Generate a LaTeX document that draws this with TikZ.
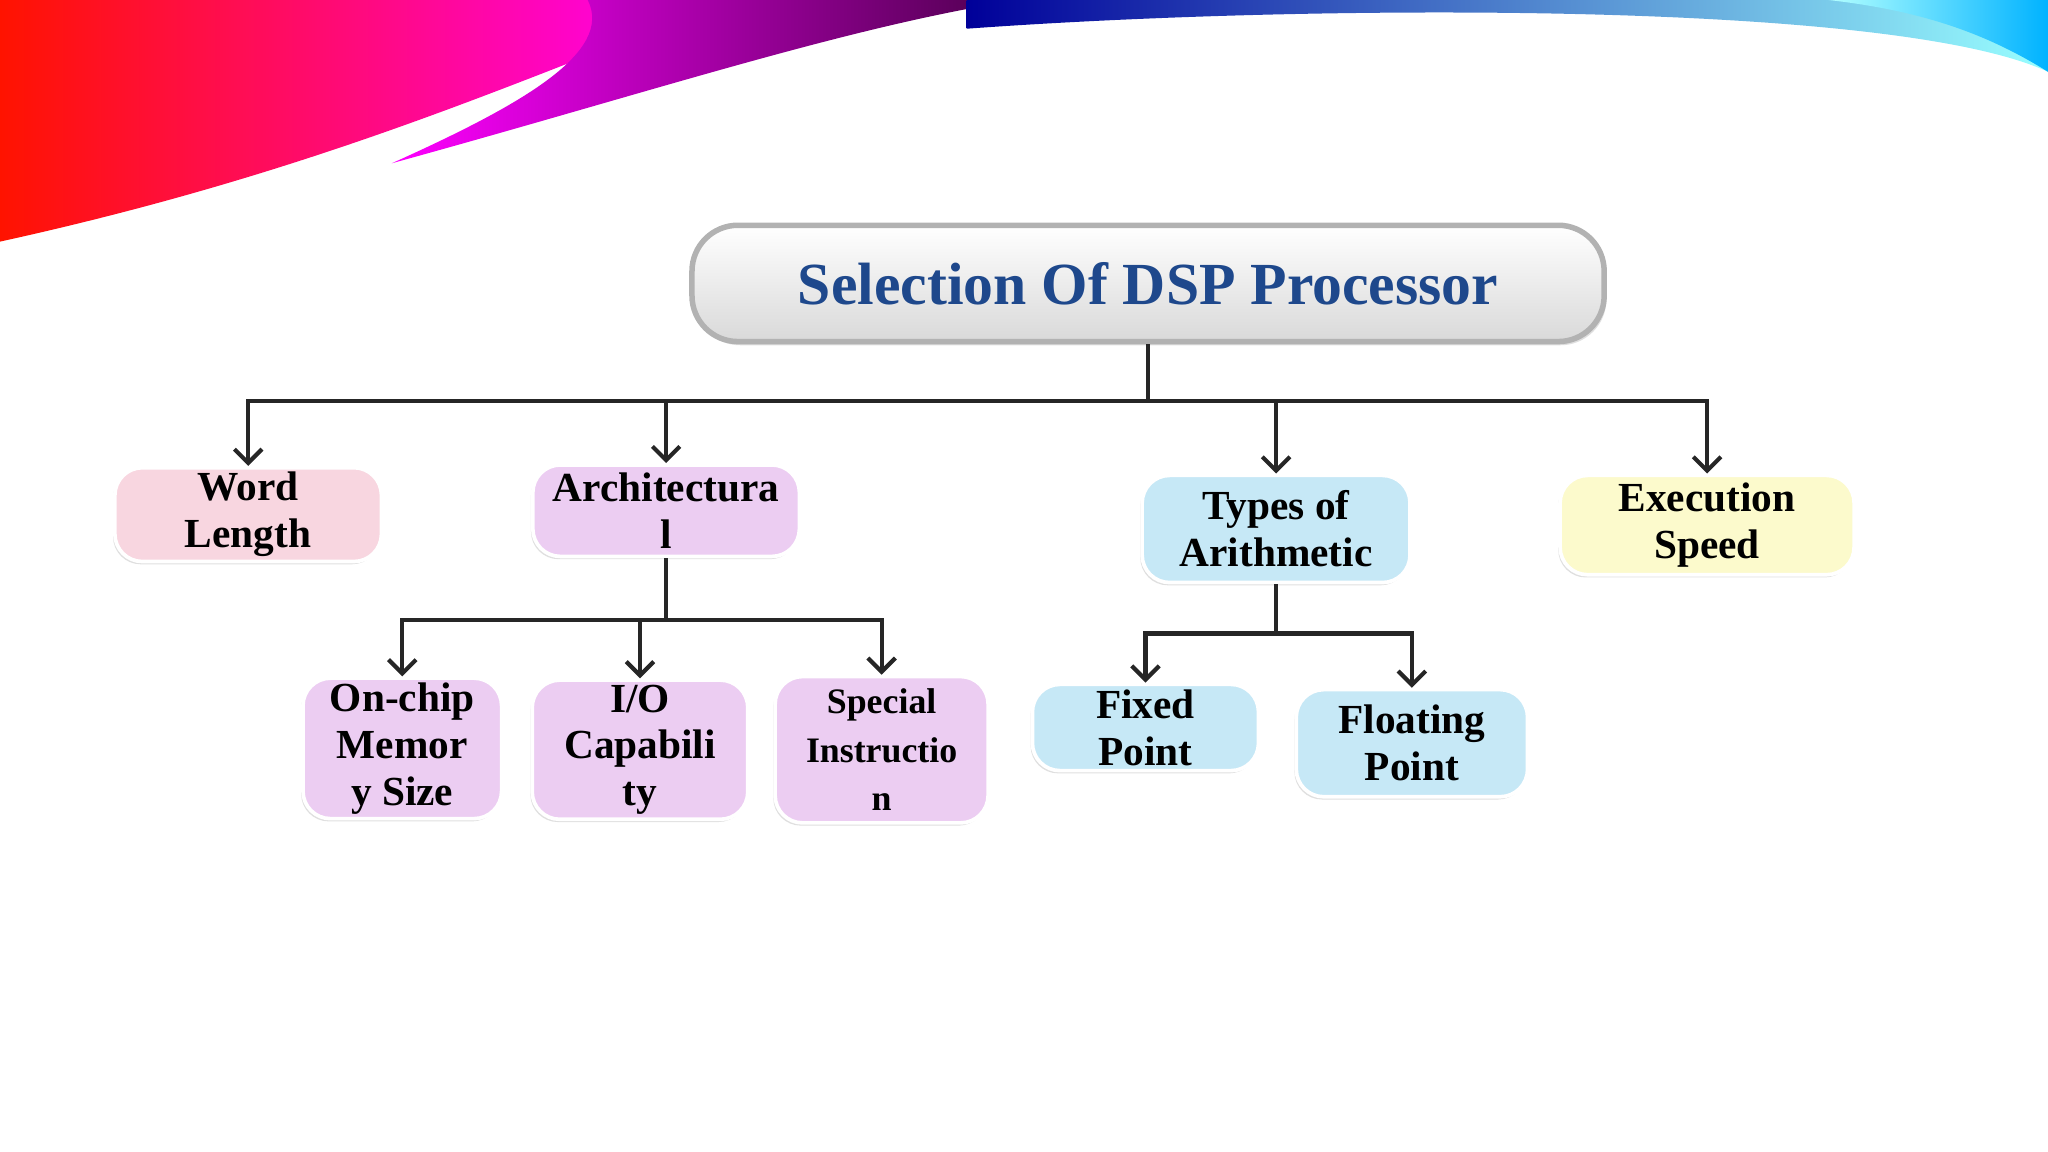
\documentclass[tikz,border=0pt]{standalone}
\usepackage{fontspec}
\setmainfont{Liberation Serif}
\usetikzlibrary{shadows,arrows.meta}
\definecolor{titleblue}{RGB}{30,72,140}
\definecolor{pinkbox}{RGB}{248,214,224}
\definecolor{lilacbox}{RGB}{236,205,242}
\definecolor{bluebox}{RGB}{198,232,246}
\definecolor{yellowbox}{RGB}{252,250,204}
\begin{document}
\begin{tikzpicture}[x=0.01cm,y=-0.01cm,
  box/.style={rounded corners=6pt,draw=white,line width=0.8pt,align=center,
    font=\fontsize{9}{10.2}\selectfont\bfseries,inner sep=1pt,
    drop shadow={shadow xshift=-0.4pt,shadow yshift=-0.6pt,fill=black!25}},
  conn/.style={-{Straight Barb[length=3pt]},line width=0.9pt,black!85}]
\useasboundingbox (0,0) rectangle (1568,882);
% top decoration
\shade[left color=red!85!orange,right color=magenta] (0,0) -- (560,0)
  .. controls (400,60) and (250,130) .. (0,185) -- cycle;
\shade[left color=magenta,right color=violet!60!black] (450,0) -- (780,0)
  .. controls (650,20) and (500,70) .. (300,125) .. controls (400,80) and (470,40) .. (450,0) -- cycle;
\shade[left color=blue!60!black,right color=cyan!40] (740,0) -- (1568,0) -- (1568,55)
  .. controls (1450,0) and (1000,3) .. (740,22) -- cycle;
\shade[left color=cyan!30,right color=cyan!70!blue] (1400,0) -- (1568,0) -- (1568,55)
  .. controls (1520,25) and (1470,8) .. (1400,0) -- cycle;
% title
\node[rounded corners=10pt,draw=black!30,line width=1.2pt,top color=white,bottom color=black!15,
  minimum width=6.98cm,minimum height=0.89cm,font=\fontsize{13}{15}\selectfont\bfseries,
  text=titleblue,drop shadow={shadow xshift=0.5pt,shadow yshift=-0.8pt,fill=black!25}] (title) at (879,217) {Selection Of DSP Processor};
% level 1
\node[box,fill=pinkbox,minimum width=2.04cm,minimum height=0.6cm] (word) at (190,394) {Word\\Length};
\node[box,fill=lilacbox,minimum width=2.04cm,minimum height=0.7cm] (arch) at (510,391) {Architectura\\l};
\node[box,fill=bluebox,minimum width=2.05cm,minimum height=0.82cm] (arith) at (977,405) {Types of\\Arithmetic};
\node[box,fill=yellowbox,minimum width=2.25cm,minimum height=0.76cm] (speed) at (1307,402) {Execution\\Speed};
% level 2
\node[box,fill=lilacbox,minimum width=1.52cm,minimum height=1.06cm] (mem) at (308,573) {On-chip\\Memor\\y Size};
\node[box,fill=lilacbox,minimum width=1.65cm,minimum height=1.04cm] (io) at (490,574) {I/O\\Capabili\\ty};
\node[box,fill=lilacbox,minimum width=1.63cm,minimum height=1.12cm,
  font=\fontsize{7.8}{10.5}\selectfont\bfseries] (spec) at (675,574) {Special\\Instructio\\n};
\node[box,fill=bluebox,minimum width=1.73cm,minimum height=0.66cm] (fixed) at (877,557) {Fixed\\Point};
\node[box,fill=bluebox,minimum width=1.77cm,minimum height=0.82cm] (float) at (1081,569) {Floating\\Point};
% connectors
\coordinate (bus1) at (0,307);
\coordinate (bus2) at (0,475);
\coordinate (bus3) at (0,485);
\draw[line width=0.9pt,black!85] (title.south) -- (title.south |- bus1);
\foreach \n in {word,arch,arith,speed}
  \draw[conn] (title.south |- bus1) -| (\n.north);
\draw[line width=0.9pt,black!85] (arch.south) -- (arch.south |- bus2);
\foreach \n in {mem,io,spec}
  \draw[conn] (arch.south |- bus2) -| (\n.north);
\draw[line width=0.9pt,black!85] (arith.south) -- (arith.south |- bus3);
\foreach \n in {fixed,float}
  \draw[conn] (arith.south |- bus3) -| (\n.north);
\end{tikzpicture}
\end{document}
